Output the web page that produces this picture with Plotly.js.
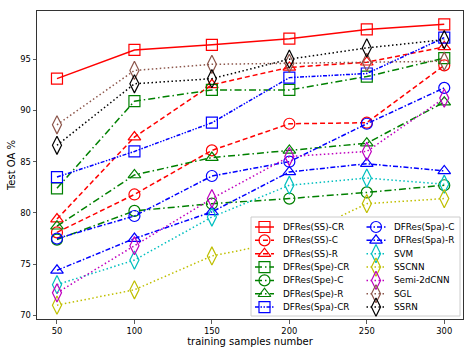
<!DOCTYPE html>
<html>
<head>
<meta charset="utf-8">
<script src="https://cdn.plot.ly/plotly-3.0.1.min.js"></script>
<style>html,body{margin:0;padding:0;background:#fff;}#chart{width:474px;height:355px;}</style>
</head>
<body>
<div id="chart"></div>
<script>
const samples = [50, 100, 150, 200, 250, 300];
const ssCR  = [93.1, 95.9, 96.4, 97.0, 97.9, 98.4];
const ssC   = [78.1, 81.8, 86.1, 88.7, 88.8, 94.4];
const ssR   = [79.4, 87.4, 92.5, 94.2, 94.7, 96.2];
const speCR = [82.4, 90.9, 92.0, 92.0, 93.3, 95.1];
const speC  = [77.4, 80.2, 80.9, 81.4, 82.0, 82.7];
const speR  = [78.7, 83.7, 85.4, 86.1, 86.8, 90.8];
const spaCR = [83.5, 86.0, 88.8, 93.2, 93.6, 97.1];
const spaC  = [77.5, 79.7, 83.6, 85.0, 88.7, 92.2];
const spaR  = [74.4, 77.5, 80.1, 84.0, 84.8, 84.1];
const svm   = [73.0, 75.4, 79.6, 82.7, 83.4, 82.8];
const sscnn = [71.0, 72.5, 75.8, 77.3, 80.9, 81.4];
const semi  = [72.2, 76.8, 81.4, 85.5, 86.0, 91.2];
const sgl   = [88.6, 93.9, 94.5, 94.6, 94.7, 94.8];
const ssrn  = [86.6, 92.6, 93.1, 95.0, 96.1, 96.9];
const yTicks = [70, 75, 80, 85, 90, 95];

const seriesNames = ['DFRes(SS)-CR','DFRes(SS)-C','DFRes(SS)-R','DFRes(Spe)-CR','DFRes(Spe)-C','DFRes(Spe)-R','DFRes(Spa)-CR',
                     'DFRes(Spa)-C','DFRes(Spa)-R','SVM','SSCNN','Semi-2dCNN','SGL','SSRN'];
const seriesValues = [ssCR, ssC, ssR, speCR, speC, speR, spaCR, spaC, spaR, svm, sscnn, semi, sgl, ssrn];

const RED='#ff0000', GREEN='#008000', BLUE='#0000ff';
const DASH='5px,3px', DASHDOT='7px,3px,1.5px,3px', BDASHDOT='5px,2px,1.5px,2px', DOT='1.5px,2.5px';
const styles = [
  {c:RED,   d:'solid', m:'square-open'},
  {c:RED,   d:DASH, m:'circle-open'},
  {c:RED,   d:DASH, m:'triangle-up-open'},
  {c:GREEN, d:DASHDOT, m:'square-open'},
  {c:GREEN, d:DASHDOT, m:'circle-open'},
  {c:GREEN, d:DASHDOT, m:'triangle-up-open'},
  {c:BLUE,  d:'4px,1.5px,1.5px,1.5px,1.5px,1.5px', m:'square-open'},
  {c:BLUE,  d:BDASHDOT, m:'circle-open'},
  {c:BLUE,  d:BDASHDOT, m:'triangle-up-open'},
  {c:'#00bfbf', d:DOT, m:'diamond-tall-open'},
  {c:'#bfbf00', d:DOT, m:'diamond-tall-open'},
  {c:'#bf00bf', d:DOT, m:'diamond-tall-open'},
  {c:'#8c564b', d:DOT, m:'diamond-tall-open'},
  {c:'#000000', d:DOT, m:'diamond-tall-open'}
];
const markerSize = s => s.m.indexOf('diamond') === 0 ? 13 : 11;

const traces = seriesNames.map((name, i) => {
  const s = styles[i];
  return {
    type: 'scatter', mode: 'lines+markers', name: name,
    x: samples, y: seriesValues[i], showlegend: false,
    line: {color: s.c, width: 1.5, dash: s.d},
    marker: {symbol: s.m, size: markerSize(s), color: s.c, line: {color: s.c, width: 1.2}}
  };
});

// ---- legend (matplotlib-style, 2 columns x 7 rows) drawn on an auxiliary pixel-like axis ----
const FONT = 'DejaVu Sans, sans-serif';
const LG = {left: 251, right: 460, top: 217, bottom: 316, row0: 227, rowH: 13.35, colW: 111.5,
            g0: 255, g1: 274, tx: 280.5};
traces.push({
  type: 'scatter', mode: 'lines', xaxis: 'x2', yaxis: 'y2', showlegend: false, hoverinfo: 'skip',
  x: [LG.left, LG.right, LG.right, LG.left, LG.left], y: [LG.top, LG.top, LG.bottom, LG.bottom, LG.top],
  fill: 'toself', fillcolor: 'rgba(255,255,255,0.85)', line: {color: '#cccccc', width: 1}
});
const annotations = [];
seriesNames.forEach((name, i) => {
  const s = styles[i];
  const col = Math.floor(i / 7), row = i % 7;
  const ox = col * LG.colW, yy = LG.row0 + row * LG.rowH;
  traces.push({
    type: 'scatter', mode: 'lines+markers', xaxis: 'x2', yaxis: 'y2', showlegend: false, hoverinfo: 'skip',
    x: [LG.g0 + ox, (LG.g0 + LG.g1) / 2 + ox, LG.g1 + ox], y: [yy, yy, yy],
    line: {color: s.c, width: 1.5, dash: s.d},
    marker: {symbol: s.m, size: markerSize(s), color: s.c, opacity: [0, 1, 0], line: {color: s.c, width: 1.2}}
  });
  annotations.push({
    xref: 'x2', yref: 'y2', x: LG.tx + ox, y: yy, text: name, showarrow: false,
    xanchor: 'left', yanchor: 'middle', font: {family: FONT, size: 8.8, color: '#000'}
  });
});

const ML = 37, MR = 11, MT = 11, MB = 36, W = 474, H = 355;
const pw = W - ML - MR, ph = H - MT - MB;

const layout = {
  width: W, height: H,
  margin: {l: ML, r: MR, t: MT, b: MB},
  paper_bgcolor: '#fff', plot_bgcolor: '#fff',
  font: {family: FONT, size: 10, color: '#000'},
  showlegend: false,
  annotations: annotations,
  xaxis: {
    range: [37.1, 312.1], tickvals: samples, ticktext: samples.map(String),
    showgrid: false, zeroline: false, showline: true, mirror: true,
    linecolor: '#333', linewidth: 1, ticks: 'outside', ticklen: 3.5, tickcolor: '#333', tickwidth: 0.8,
    tickfont: {family: FONT, size: 8.4, color: '#000'},
    title: {text: 'training samples number', font: {family: FONT, size: 10, color: '#000'}, standoff: 1}
  },
  yaxis: {
    range: [69.65, 99.7], tickvals: yTicks,
    showgrid: false, zeroline: false, showline: true, mirror: true,
    linecolor: '#333', linewidth: 1, ticks: 'outside', ticklen: 3.5, tickcolor: '#333', tickwidth: 0.8,
    tickfont: {family: FONT, size: 8.4, color: '#000'},
    title: {text: 'Test OA %', font: {family: FONT, size: 10, color: '#000'}, standoff: 2}
  },
  xaxis2: {domain: [(LG.left - ML - 1) / pw, (LG.right - ML + 1) / pw], range: [LG.left - 1, LG.right + 1],
           anchor: 'y2', visible: false, fixedrange: true},
  yaxis2: {domain: [(H - MB - LG.bottom - 1) / ph, (H - MB - LG.top + 1) / ph], range: [LG.bottom + 1, LG.top - 1],
           anchor: 'x2', visible: false, fixedrange: true}
};

Plotly.newPlot('chart', traces, layout, {displayModeBar: false, staticPlot: true});
</script>
</body>
</html>
